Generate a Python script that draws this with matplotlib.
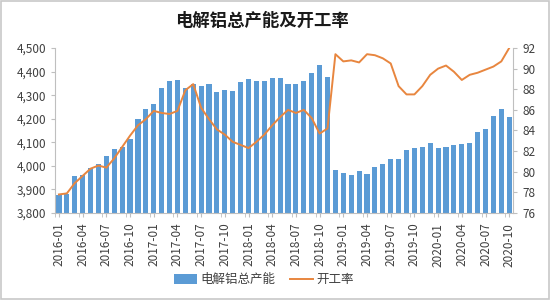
import matplotlib
matplotlib.use('Agg')
import matplotlib.pyplot as plt
from matplotlib.patches import Rectangle
import numpy as np
import pandas as pd

plt.rcParams['font.family'] = ['Noto Sans CJK SC', 'DejaVu Sans']

# 月份
months = pd.date_range('2016-01-01', '2020-10-01', freq='MS').strftime('%Y-%m').tolist()

# 电解铝总产能 (万吨)
capacity = [3875, 3880, 3958, 3962, 3990, 4007, 4042, 4072, 4078, 4112,
            4200, 4240, 4262, 4330, 4361, 4365, 4330, 4347, 4340, 4348,
            4315, 4322, 4319, 4355, 4368, 4361, 4358, 4372, 4371, 4348,
            4348, 4362, 4394, 4426, 4377, 3982, 3968, 3960, 3977, 3965,
            3994, 4009, 4027, 4030, 4067, 4075, 4081, 4097, 4077, 4081,
            4087, 4091, 4097, 4142, 4158, 4212, 4243, 4206]

# 开工率 (%)
rate = [77.8, 77.9, 78.9, 79.6, 80.3, 80.6, 80.4, 81.3, 82.4, 83.5,
        84.5, 85.1, 85.9, 85.7, 85.6, 85.9, 87.9, 88.5, 86.2, 85.1,
        84.1, 83.6, 82.9, 82.6, 82.3, 82.9, 83.6, 84.5, 85.3, 86.0,
        85.7, 86.0, 85.2, 83.7, 84.2, 91.4, 90.7, 90.8, 90.6, 91.4,
        91.3, 91.0, 90.5, 88.3, 87.5, 87.5, 88.3, 89.4, 90.0, 90.3,
        89.7, 88.9, 89.4, 89.6, 89.9, 90.2, 90.7, 92.0]

bar_color = '#5B9BD5'
line_color = '#E8863F'
axis_color = '#BFBFBF'
text_color = '#404040'

fig = plt.figure(figsize=(5.5, 3.0), dpi=100)
fig.patches.append(Rectangle((0.002, 0.003), 0.996, 0.994, transform=fig.transFigure,
                             fill=False, edgecolor='#C8C8C8', linewidth=1.2))

ax = fig.add_axes([0.1, 0.29, 0.833, 0.55])
x = np.arange(len(months))
bars = ax.bar(x, capacity, width=0.65, color=bar_color, label='电解铝总产能', zorder=2)
ax.set_xlim(-0.5, len(months) - 0.5)
ax.set_ylim(3800, 4500)
ax.set_yticks(range(3800, 4501, 100))
ax.yaxis.set_major_formatter(matplotlib.ticker.FuncFormatter(lambda v, p: f'{int(v):,}'))

ax2 = ax.twinx()
line, = ax2.plot(x, rate, color=line_color, linewidth=1.4, label='开工率', zorder=3)
ax2.set_ylim(76, 92)
ax2.set_yticks(range(76, 93, 2))

# x 轴标签每三个月
ax.set_xticks(x[::3])
ax.set_xticklabels(months[::3], rotation=90)
ax.set_xticks(np.arange(-0.5, len(months), 3), minor=True)
ax.tick_params(axis='x', which='major', length=0, pad=4)
ax.tick_params(axis='x', which='minor', length=3, color=axis_color)

for a in (ax, ax2):
    a.spines['top'].set_visible(False)
    for s in ('left', 'right', 'bottom'):
        a.spines[s].set_color(axis_color)
    a.tick_params(labelsize=8.5, colors=text_color, length=3)
    a.tick_params(axis='both', which='both', color=axis_color)
ax2.spines['left'].set_visible(False)
ax2.spines['bottom'].set_visible(False)
ax.spines['right'].set_visible(False)

fig.text(0.477, 0.93, '电解铝总产能及开工率', ha='center', va='center',
         fontsize=12.5, fontweight='bold', color='#1a1a1a')

fig.legend([bars, line], ['电解铝总产能', '开工率'], loc='center', bbox_to_anchor=(0.48, 0.067),
           ncol=2, frameon=False, fontsize=9, handlelength=1.8, handleheight=0.8,
           handletextpad=0.3, columnspacing=1.2, labelcolor=text_color)

fig.savefig('out.png', dpi=100)
